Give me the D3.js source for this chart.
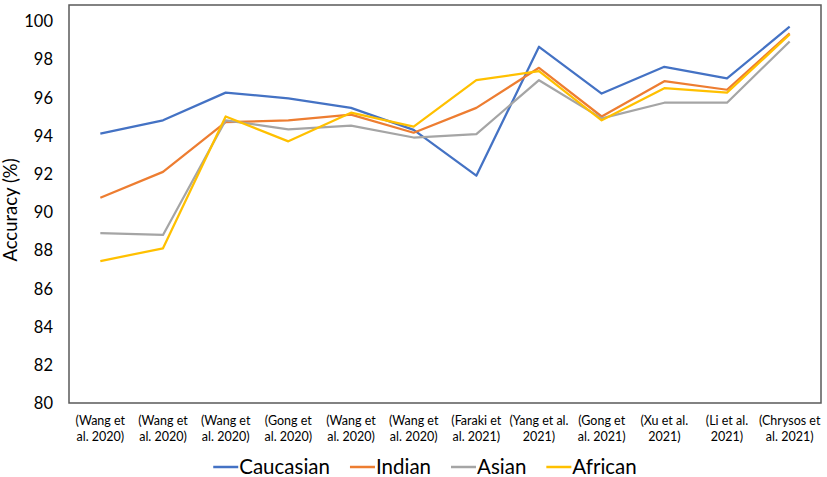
<!DOCTYPE html>
<html><head><meta charset="utf-8">
<script src="https://cdn.jsdelivr.net/npm/d3@7"></script>
<style>body{margin:0;background:#fff}svg{display:block}text{font-family:Lato,"Open Sans",sans-serif;fill:#000}</style>
</head><body>
<svg id="c" width="827" height="477"></svg>
<script>
const categories = [
 ["(Wang et","al. 2020)"],["(Wang et","al. 2020)"],["(Wang et","al. 2020)"],["(Gong et","al. 2020)"],
 ["(Wang et","al. 2020)"],["(Wang et","al. 2020)"],["(Faraki et","al. 2021)"],["(Yang et al.","2021)"],
 ["(Gong et","al. 2021)"],["(Xu et al.","2021)"],["(Li et al.","2021)"],["(Chrysos et","al. 2021)"]
];
const seriesNames = ["Caucasian","Indian","Asian","African"];
const caucasian = [94.1,94.8,96.25,95.95,95.45,94.3,91.9,98.65,96.2,97.6,97.0,99.7];
const indian    = [90.75,92.1,94.7,94.8,95.1,94.15,95.45,97.55,95.0,96.85,96.4,99.35];
const asian     = [88.9,88.8,94.8,94.33,94.52,93.9,94.08,96.9,94.9,95.72,95.72,98.93];
const african   = [87.43,88.1,95.0,93.7,95.2,94.47,96.9,97.38,94.8,96.48,96.25,99.3];
const yTicks = [80,82,84,86,88,90,92,94,96,98,100];
const colors = ["#4472C4","#ED7D31","#A5A5A5","#FFC000"];
const seriesData = [caucasian, indian, asian, african];

const svg = d3.select("#c");
const frame = {l:69, t:5, r:821, b:403};
const x = d3.scaleBand().domain(d3.range(categories.length)).range([frame.l, frame.r]);
const y = d3.scaleLinear().domain([80,100]).range([403,21]);

svg.append("rect").attr("x",frame.l).attr("y",frame.t).attr("width",frame.r-frame.l).attr("height",frame.b-frame.t)
  .attr("fill","none").attr("stroke","#595959").attr("stroke-width",1.5);

const yAxis = d3.axisLeft(y).tickValues(yTicks).tickSize(0).tickPadding(0);
const ya = svg.append("g").attr("transform","translate(53,0)").call(yAxis);
ya.select(".domain").remove();
ya.selectAll("text").attr("font-size",16.5).style("font-family","Lato, 'Open Sans', sans-serif").attr("fill","#000").attr("dy","0.35em");

svg.append("text").attr("transform","translate(17,210) rotate(-90)").attr("text-anchor","middle")
  .attr("font-size",18.5).text("Accuracy (%)");

const xl = svg.append("g");
categories.forEach((c,i)=>{
  const cxp = x(i)+x.bandwidth()/2;
  xl.append("text").attr("text-anchor","middle").attr("font-size",12.5).attr("x",cxp).attr("y",425).text(c[0]);
  xl.append("text").attr("text-anchor","middle").attr("font-size",12.5).attr("x",cxp).attr("y",440.5).text(c[1]);
});

const line = d3.line().x((d,i)=>x(i)+x.bandwidth()/2).y(d=>y(d));
seriesData.forEach((s,k)=>{
  svg.append("path").datum(s).attr("d",line).attr("fill","none").attr("stroke",colors[k])
    .attr("stroke-width",2.25).attr("stroke-linejoin","round");
});

// legend
const lg = svg.append("g");
let cx = 0;
const gap = 20;
seriesNames.forEach((n,k)=>{
  const g = lg.append("g").attr("transform",`translate(${cx},0)`);
  g.append("line").attr("x1",0).attr("x2",25).attr("y1",0).attr("y2",0).attr("stroke",colors[k]).attr("stroke-width",2.5);
  const t = g.append("text").attr("x",26).attr("y",0).attr("dy","0.35em").attr("font-size",20.5).text(n);
  cx += 26 + t.node().getComputedTextLength() + gap;
});
const total = cx - gap;
lg.attr("transform",`translate(${425-total/2},467)`);
</script>
</body></html>
